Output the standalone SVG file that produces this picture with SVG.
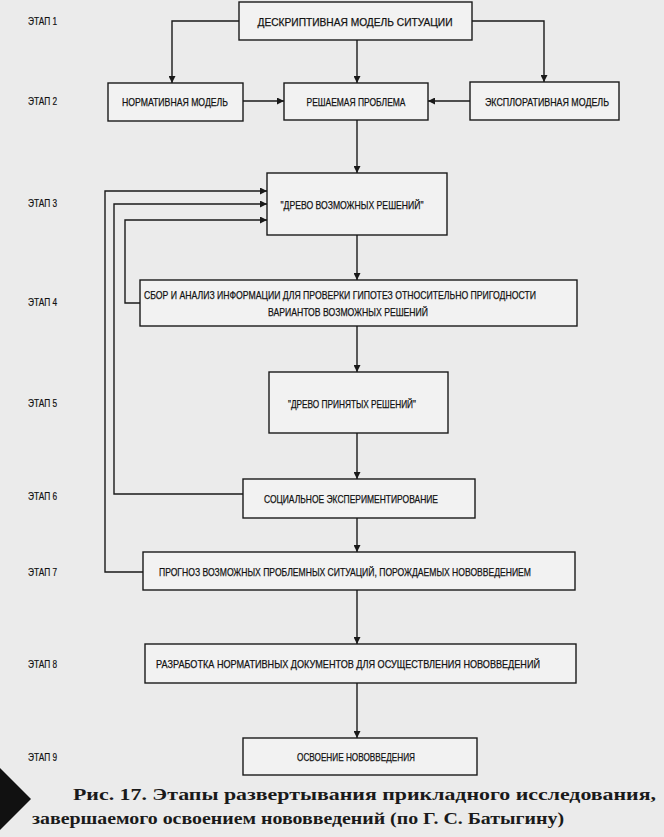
<svg xmlns="http://www.w3.org/2000/svg" width="664" height="837" viewBox="0 0 664 837">
<defs>
<marker id="ar" viewBox="0 0 10 10" refX="10" refY="5" markerWidth="7" markerHeight="7" orient="auto" markerUnits="userSpaceOnUse"><path d="M0,0 L10,5 L0,10 z" fill="#1a1a1a"/></marker>
<style>
.b{fill:#f2f2f2;stroke:#1a1a1a;stroke-width:1.4}
.t{font-family:"Liberation Sans",Arial,sans-serif;font-size:11.5px;fill:#111;text-anchor:middle;stroke:#111;stroke-width:0.25}
.s{font-family:"Liberation Sans",Arial,sans-serif;font-size:11px;fill:#111;stroke:#111;stroke-width:0.2}
.c{fill:none;stroke:#1a1a1a;stroke-width:1.4}
.cap{font-family:"Liberation Serif","Times New Roman",serif;font-size:17px;font-weight:bold;fill:#1a1a1a}
</style>
</defs>
<rect width="664" height="837" fill="#ebebeb"/>
<g id="stages">
<text class="s" x="28" y="25" textLength="29" lengthAdjust="spacingAndGlyphs">ЭТАП 1</text>
<text class="s" x="28" y="105" textLength="29" lengthAdjust="spacingAndGlyphs">ЭТАП 2</text>
<text class="s" x="28" y="207" textLength="29" lengthAdjust="spacingAndGlyphs">ЭТАП 3</text>
<text class="s" x="28" y="306" textLength="29" lengthAdjust="spacingAndGlyphs">ЭТАП 4</text>
<text class="s" x="28" y="407" textLength="29" lengthAdjust="spacingAndGlyphs">ЭТАП 5</text>
<text class="s" x="28" y="500" textLength="29" lengthAdjust="spacingAndGlyphs">ЭТАП 6</text>
<text class="s" x="28" y="576" textLength="29" lengthAdjust="spacingAndGlyphs">ЭТАП 7</text>
<text class="s" x="28" y="668" textLength="29" lengthAdjust="spacingAndGlyphs">ЭТАП 8</text>
<text class="s" x="28" y="761" textLength="29" lengthAdjust="spacingAndGlyphs">ЭТАП 9</text>
</g>
<g id="connectors">
<path class="c" d="M239,21 H172 V83" marker-end="url(#ar)"/>
<path class="c" d="M472,21 H544 V82" marker-end="url(#ar)"/>
<path class="c" d="M357,40 V83" marker-end="url(#ar)"/>
<path class="c" d="M243,101 H284" marker-end="url(#ar)"/>
<path class="c" d="M470,101 H428" marker-end="url(#ar)"/>
<path class="c" d="M357,120 V173" marker-end="url(#ar)"/>
<path class="c" d="M357,235 V280" marker-end="url(#ar)"/>
<path class="c" d="M357,326 V372" marker-end="url(#ar)"/>
<path class="c" d="M357,433 V479" marker-end="url(#ar)"/>
<path class="c" d="M357,518 V552" marker-end="url(#ar)"/>
<path class="c" d="M357,590 V644" marker-end="url(#ar)"/>
<path class="c" d="M357,683 V738" marker-end="url(#ar)"/>
<path class="c" d="M140,303 H125 V220 H267" marker-end="url(#ar)"/>
<path class="c" d="M243,494 H114 V204 H267" marker-end="url(#ar)"/>
<path class="c" d="M143,572 H105 V191 H267" marker-end="url(#ar)"/>
</g>
<g id="n1"><rect class="b" x="239" y="2" width="233" height="38"/><text class="t" x="355" y="26" textLength="195" lengthAdjust="spacingAndGlyphs">ДЕСКРИПТИВНАЯ МОДЕЛЬ СИТУАЦИИ</text></g>
<g id="n2a"><rect class="b" x="108" y="83" width="135" height="38"/><text class="t" x="175" y="106" textLength="106" lengthAdjust="spacingAndGlyphs">НОРМАТИВНАЯ МОДЕЛЬ</text></g>
<g id="n2b"><rect class="b" x="284" y="83" width="144" height="37"/><text class="t" x="356" y="106" textLength="99" lengthAdjust="spacingAndGlyphs">РЕШАЕМАЯ ПРОБЛЕМА</text></g>
<g id="n2c"><rect class="b" x="470" y="82" width="149" height="38"/><text class="t" x="547" y="106" textLength="124" lengthAdjust="spacingAndGlyphs">ЭКСПЛОРАТИВНАЯ МОДЕЛЬ</text></g>
<g id="n3"><rect class="b" x="267" y="173" width="180" height="62"/><text class="t" x="352" y="209" textLength="143" lengthAdjust="spacingAndGlyphs">"ДРЕВО ВОЗМОЖНЫХ РЕШЕНИЙ"</text></g>
<g id="n4"><rect class="b" x="140" y="280" width="437" height="46"/><text class="t" x="340" y="299" textLength="392" lengthAdjust="spacingAndGlyphs">СБОР И АНАЛИЗ ИНФОРМАЦИИ ДЛЯ ПРОВЕРКИ ГИПОТЕЗ ОТНОСИТЕЛЬНО ПРИГОДНОСТИ</text><text class="t" x="348" y="316" textLength="160" lengthAdjust="spacingAndGlyphs">ВАРИАНТОВ ВОЗМОЖНЫХ РЕШЕНИЙ</text></g>
<g id="n5"><rect class="b" x="269" y="372" width="179" height="61"/><text class="t" x="352" y="408" textLength="128" lengthAdjust="spacingAndGlyphs">"ДРЕВО ПРИНЯТЫХ РЕШЕНИЙ"</text></g>
<g id="n6"><rect class="b" x="243" y="479" width="232" height="39"/><text class="t" x="351" y="503" textLength="174" lengthAdjust="spacingAndGlyphs">СОЦИАЛЬНОЕ ЭКСПЕРИМЕНТИРОВАНИЕ</text></g>
<g id="n7"><rect class="b" x="143" y="552" width="432" height="38"/><text class="t" x="345" y="576" textLength="372" lengthAdjust="spacingAndGlyphs">ПРОГНОЗ ВОЗМОЖНЫХ ПРОБЛЕМНЫХ СИТУАЦИЙ, ПОРОЖДАЕМЫХ НОВОВВЕДЕНИЕМ</text></g>
<g id="n8"><rect class="b" x="145" y="644" width="431" height="39"/><text class="t" x="348" y="668" textLength="384" lengthAdjust="spacingAndGlyphs">РАЗРАБОТКА НОРМАТИВНЫХ ДОКУМЕНТОВ ДЛЯ ОСУЩЕСТВЛЕНИЯ НОВОВВЕДЕНИЙ</text></g>
<g id="n9"><rect class="b" x="243" y="738" width="234" height="37"/><text class="t" x="356" y="761" textLength="118" lengthAdjust="spacingAndGlyphs">ОСВОЕНИЕ НОВОВВЕДЕНИЯ</text></g>
<path d="M0,768 L31,799 L0,830 z" fill="#111"/>
<text class="cap" x="73" y="800" textLength="583" lengthAdjust="spacingAndGlyphs">Рис. 17. Этапы развертывания прикладного исследования,</text>
<text class="cap" x="32" y="824" textLength="532" lengthAdjust="spacingAndGlyphs">завершаемого освоением нововведений (по Г. С. Батыгину)</text>
</svg>
